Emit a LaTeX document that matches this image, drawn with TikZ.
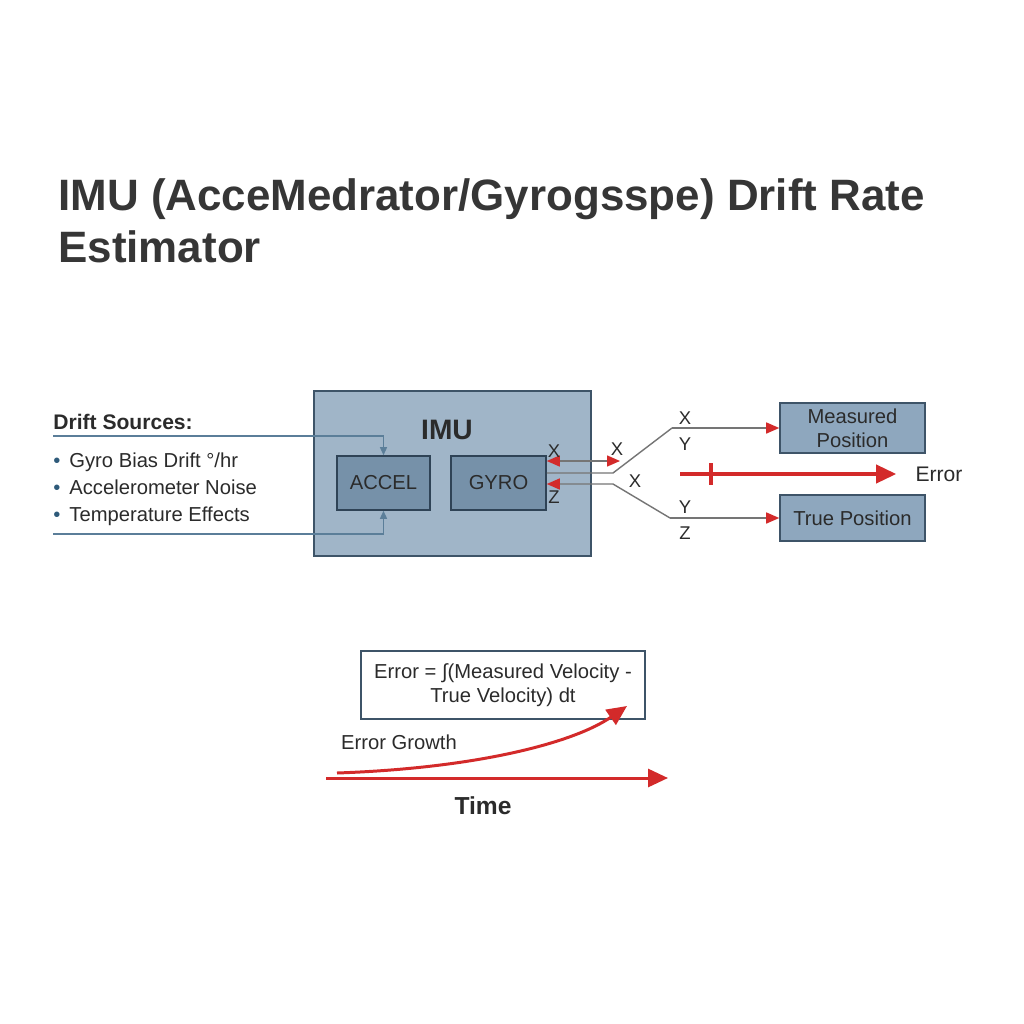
\documentclass[tikz,border=0pt]{standalone}
\usepackage{fontspec}
\setmainfont{Liberation Sans}
\usetikzlibrary{arrows.meta, positioning}
\usepackage{xcolor}
\definecolor{imufill}{HTML}{A0B5C8}
\definecolor{imuedge}{HTML}{3E5468}
\definecolor{unitfill}{HTML}{7691A9}
\definecolor{unitedge}{HTML}{2F4356}
\definecolor{posfill}{HTML}{8EA7BE}
\definecolor{srcblue}{HTML}{5B7E99}
\definecolor{dotblue}{HTML}{2E5A7A}
\definecolor{txtdark}{HTML}{2B2B2B}
\definecolor{sigred}{HTML}{D32A2A}
\definecolor{siggray}{HTML}{757575}

\begin{document}
\begin{tikzpicture}[
    x=0.02cm, y=-0.02cm,
    box/.style={rectangle, draw=imuedge, line width=0.9pt, align=center,
                font=\fontsize{11.5}{13.5}\selectfont, text=txtdark},
    txt/.style={inner sep=0pt, text=txtdark, font=\fontsize{11.5}{13.5}\selectfont},
    axlbl/.style={inner sep=0pt, text=txtdark, font=\fontsize{10.5}{12}\selectfont},
    src/.style={-{Stealth[length=1.6mm, width=1.4mm, inset=0pt]}, srcblue, line width=0.8pt},
    sig/.style={-{Stealth[length=2.6mm, width=2.2mm, inset=0pt, color=sigred]}, siggray, line width=0.8pt},
    errarr/.style={-{Stealth[length=4mm, width=3.6mm, inset=0pt]}, sigred, line width=2.1pt}
]
\useasboundingbox[fill=white] (0,0) rectangle (1024,1024);

% Title
\node[txt, anchor=west, align=left, text=txtdark!95,
      font=\fontsize{25}{29.5}\selectfont\bfseries] (title) at (58,221)
      {IMU (AcceMedrator/Gyrogsspe) Drift Rate\\Estimator};

% Drift sources
\node[txt, anchor=west, font=\fontsize{12}{14}\selectfont\bfseries] (srchead) at (53,422) {Drift Sources:};
\node[txt, anchor=base west] (src1) at (53,467) {{\color{dotblue}•}\, Gyro Bias Drift °/hr};
\node[txt, anchor=base west] (src2) at (53,494) {{\color{dotblue}•}\, Accelerometer Noise};
\node[txt, anchor=base west] (src3) at (53,521) {{\color{dotblue}•}\, Temperature Effects};
\coordinate (srctop) at (53,436);
\coordinate (srcbot) at (53,534);

% IMU block
\node[box, fill=imufill, minimum width=5.54cm, minimum height=3.3cm] (imu) at (452.5,473.5) {};
\node[txt, font=\fontsize{16}{18}\selectfont\bfseries] (imulbl) at (447,430) {IMU};
\node[box, fill=unitfill, draw=unitedge, minimum width=1.86cm, minimum height=1.08cm] (accel) at (383.5,483) {ACCEL};
\node[box, fill=unitfill, draw=unitedge, minimum width=1.9cm, minimum height=1.08cm] (gyro) at (498.5,483) {GYRO};

% Outputs
\node[box, fill=posfill, minimum width=2.9cm, minimum height=1cm] (meas) at (852.5,428) {Measured\\Position};
\node[box, fill=posfill, minimum width=2.9cm, minimum height=0.92cm] (true) at (852.5,518) {True Position};
\node[txt, font=\fontsize{12}{14}\selectfont] (errlbl) at (939,474) {Error};

% Sources -> ACCEL
\draw[src] (srctop) -| (accel.north);
\draw[src] (srcbot) -| (accel.south);

% GYRO axes
\coordinate (xout)   at (620,461);
\coordinate (split1) at (613,473);
\coordinate (bend1)  at (672,428);
\coordinate (split2) at (613,484);
\coordinate (bend2)  at (670,518);
\draw[siggray, line width=0.8pt,
      {Stealth[length=2.6mm, width=2.2mm, inset=0pt, color=sigred]}-{Stealth[length=2.6mm, width=2.2mm, inset=0pt, color=sigred]}]
      (gyro.east |- xout) -- (xout);
\draw[sig, -] (gyro.east |- split1) -- (split1) -- (bend1);
\draw[sig] (bend1) -- (meas.west);
\draw[sig, {Stealth[length=2.6mm, width=2.2mm, inset=0pt, color=sigred]}-] (gyro.east |- split2) -- (split2) -- (bend2);
\draw[sig] (bend2) -- (true.west);

\node[axlbl] (gx)  at (554,451) {X};
\node[axlbl] (gz)  at (554,497) {Z};
\node[axlbl] (ox)  at (617,449) {X};
\node[axlbl] (ox2) at (635,481) {X};
\node[axlbl] (mx)  at (685,418) {X};
\node[axlbl] (my)  at (685,444) {Y};
\node[axlbl] (ty)  at (685,507) {Y};
\node[axlbl] (tz)  at (685,533) {Z};

% Error arrow
\coordinate (errstart) at (680,474);
\draw[errarr] (errstart) -- ([xshift=-0.38cm]errlbl.west);
\draw[sigred, line width=2.1pt] (711,463) -- (711,485);

% Error growth
\node[box, fill=white, draw=imuedge, minimum width=5.68cm, minimum height=1.36cm] (formula) at (503,685)
     {Error = ∫(Measured Velocity -\\True Velocity) dt};
\node[txt] (growlbl) at (399,742) {Error Growth};
\coordinate (growstart) at (337,773);
\coordinate (growend)   at (627,706);
\draw[errarr, line width=1.7pt] (growstart) .. controls (480,768) and (575,742) .. (growend);
\coordinate (timestart) at (326,778);
\coordinate (timeend)   at (668,778);
\draw[errarr, line width=1.7pt] (timestart) -- (timeend);
\node[txt, font=\fontsize{14}{16}\selectfont\bfseries] (timelbl) at (483,806) {Time};
\end{tikzpicture}
\end{document}
